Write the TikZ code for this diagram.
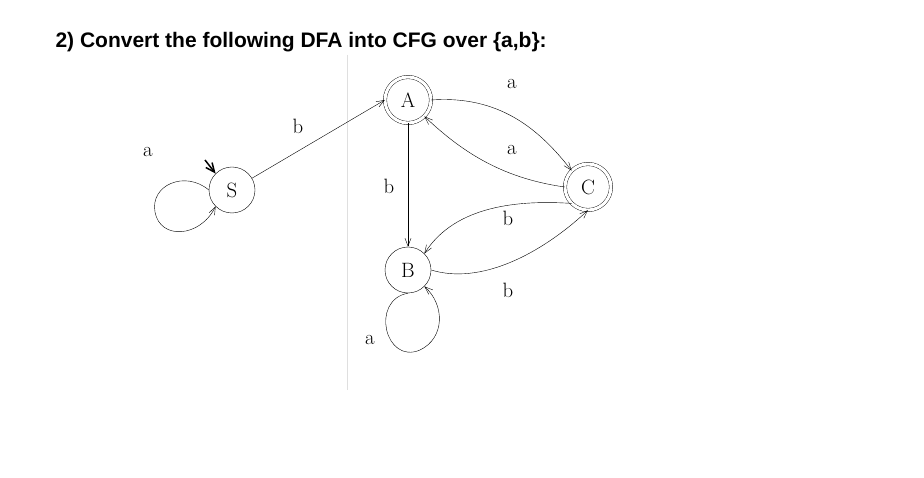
\documentclass[tikz,border=0pt]{standalone}
\usepackage{fontspec}
\newfontfamily\titlefont{Liberation Sans}
\usetikzlibrary{arrows.meta}
\begin{document}
\begin{tikzpicture}[x=1pt,y=-1pt,
  st/.style={circle,draw,thin,minimum size=46pt,inner sep=0pt,font=\huge},
  acc/.style={circle,draw,thin,double,double distance=3pt,minimum size=46pt,inner sep=0pt,font=\huge},
  tr/.style={thin,-{Straight Barb[length=8pt,width=6pt]}},
  lb/.style={font=\huge}]
\useasboundingbox (0,0) rectangle (924,478);
\draw[gray!25,thin] (347,55) -- (347,390);
\node[anchor=west,font=\titlefont\bfseries\fontsize{21}{24}\selectfont] (title) at (52,42) {2) Convert the following DFA into CFG over \{a,b\}:};
\node[st] (S) at (232,190) {S};
\node[acc] (A) at (408,100) {A};
\node[st] (B) at (408,270) {B};
\node[acc] (C) at (588,187) {C};
\coordinate (st0) at (205,160);
\draw[-{Straight Barb[length=9pt,width=8pt]},line width=1.5pt] (st0) -- (S.north west);
\draw[tr] (S.west) .. controls (185,170) and (150,185) .. (155,212) .. controls (160,240) and (200,238) .. (S.south west);
\node[lb] (la1) at (148,152) {a};
\draw[tr] (S) -- (A.west);
\node[lb] (lb1) at (298,126) {b};
\draw[tr] (A) -- (B);
\node[lb] (lb2) at (389,186) {b};
\draw[tr] (A.east) .. controls (500,95) and (540,130) .. (C.north west);
\node[lb] (la2) at (512,84) {a};
\draw[tr] (C.west) .. controls (500,178) and (460,150) .. (A.south east);
\node[lb] (la3) at (512,150) {a};
\draw[tr] (C.south west) .. controls (520,200) and (455,205) .. (B.north east);
\node[lb] (lb3) at (508,218) {b};
\draw[tr] (B.east) .. controls (480,285) and (540,255) .. (C.south);
\node[lb] (lb4) at (508,290) {b};
\draw[tr] (B.south) .. controls (370,300) and (385,365) .. (420,350) .. controls (445,338) and (445,305) .. (B.south east);
\node[lb] (la4) at (370,340) {a};
\end{tikzpicture}
\end{document}
